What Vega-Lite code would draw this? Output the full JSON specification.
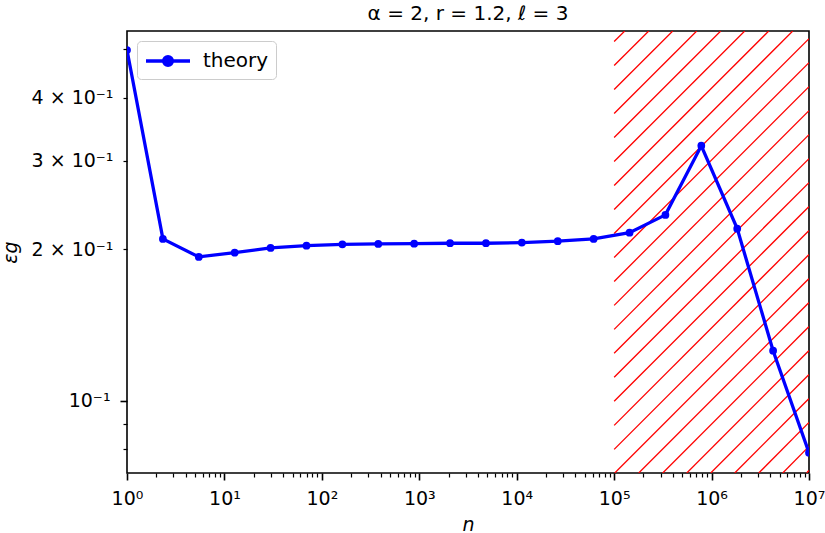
{
  "$schema": "https://vega.github.io/schema/vega-lite/v6.json",
  "width": 682,
  "height": 442,
  "autosize": {"type": "none"},
  "padding": {"left": 127, "top": 31, "right": 16, "bottom": 60},
  "background": "white",
  "title": {
    "text": "α = 2, r = 1.2, ℓ = 3",
    "font": "DejaVu Sans",
    "fontSize": 20,
    "fontWeight": "normal",
    "color": "black",
    "anchor": "middle",
    "offset": 7
  },
  "config": {
    "font": "DejaVu Sans",
    "view": {"stroke": "black", "strokeWidth": 1.6}
  },
  "datasets": {
    "curve": [
      {"n": 1, "eps": 0.498, "series": "theory"},
      {"n": 2.336, "eps": 0.2097, "series": "theory"},
      {"n": 5.456, "eps": 0.1931, "series": "theory"},
      {"n": 12.743, "eps": 0.1969, "series": "theory"},
      {"n": 29.764, "eps": 0.2012, "series": "theory"},
      {"n": 69.519, "eps": 0.2033, "series": "theory"},
      {"n": 162.38, "eps": 0.2046, "series": "theory"},
      {"n": 379.27, "eps": 0.2049, "series": "theory"},
      {"n": 885.87, "eps": 0.2052, "series": "theory"},
      {"n": 2069.1, "eps": 0.2056, "series": "theory"},
      {"n": 4832.9, "eps": 0.2056, "series": "theory"},
      {"n": 11288, "eps": 0.2062, "series": "theory"},
      {"n": 26367, "eps": 0.2075, "series": "theory"},
      {"n": 61585, "eps": 0.2097, "series": "theory"},
      {"n": 143845, "eps": 0.2158, "series": "theory"},
      {"n": 335982, "eps": 0.2341, "series": "theory"},
      {"n": 784760, "eps": 0.3213, "series": "theory"},
      {"n": 1832981, "eps": 0.2198, "series": "theory"},
      {"n": 4281332, "eps": 0.1257, "series": "theory"},
      {"n": 10000000, "eps": 0.0788, "series": "theory"}
    ],
    "hatch": [
      {"n": 100000, "eps": 0.5176, "n_end": 128500, "eps_end": 0.5433},
      {"n": 100000, "eps": 0.4638, "n_end": 226500, "eps_end": 0.5433},
      {"n": 100000, "eps": 0.4155, "n_end": 399500, "eps_end": 0.5433},
      {"n": 100000, "eps": 0.3723, "n_end": 704300, "eps_end": 0.5433},
      {"n": 100000, "eps": 0.3336, "n_end": 1242000, "eps_end": 0.5433},
      {"n": 100000, "eps": 0.2989, "n_end": 2190000, "eps_end": 0.5433},
      {"n": 100000, "eps": 0.2678, "n_end": 3862000, "eps_end": 0.5433},
      {"n": 100000, "eps": 0.24, "n_end": 6810000, "eps_end": 0.5433},
      {"n": 100000, "eps": 0.215, "n_end": 10000000, "eps_end": 0.5245},
      {"n": 100000, "eps": 0.1926, "n_end": 10000000, "eps_end": 0.47},
      {"n": 100000, "eps": 0.1726, "n_end": 10000000, "eps_end": 0.4211},
      {"n": 100000, "eps": 0.1547, "n_end": 10000000, "eps_end": 0.3773},
      {"n": 100000, "eps": 0.1386, "n_end": 10000000, "eps_end": 0.3381},
      {"n": 100000, "eps": 0.1242, "n_end": 10000000, "eps_end": 0.3029},
      {"n": 100000, "eps": 0.1113, "n_end": 10000000, "eps_end": 0.2714},
      {"n": 100000, "eps": 0.0997, "n_end": 10000000, "eps_end": 0.2432},
      {"n": 100000, "eps": 0.0893, "n_end": 10000000, "eps_end": 0.2179},
      {"n": 100000, "eps": 0.08, "n_end": 10000000, "eps_end": 0.1952},
      {"n": 101430, "eps": 0.0718, "n_end": 10000000, "eps_end": 0.1749},
      {"n": 178800, "eps": 0.0718, "n_end": 10000000, "eps_end": 0.1567},
      {"n": 315300, "eps": 0.0718, "n_end": 10000000, "eps_end": 0.1404},
      {"n": 556300, "eps": 0.0718, "n_end": 10000000, "eps_end": 0.1258},
      {"n": 980600, "eps": 0.0718, "n_end": 10000000, "eps_end": 0.1127},
      {"n": 1729000, "eps": 0.0718, "n_end": 10000000, "eps_end": 0.101},
      {"n": 3050000, "eps": 0.0718, "n_end": 10000000, "eps_end": 0.0905},
      {"n": 5377000, "eps": 0.0718, "n_end": 10000000, "eps_end": 0.0811},
      {"n": 9480000, "eps": 0.0718, "n_end": 10000000, "eps_end": 0.0727}
    ]
  },
  "layer": [
    {
      "data": {"name": "hatch"},
      "mark": {"type": "rule", "color": "#ff0000", "strokeWidth": 1.3, "clip": true},
      "encoding": {
        "x": {"field": "n", "type": "quantitative", "scale": {"type": "log", "domain": [1, 10000000], "nice": false}},
        "y": {"field": "eps", "type": "quantitative", "scale": {"type": "log", "domain": [0.0718, 0.5433], "nice": false}},
        "x2": {"field": "n_end"},
        "y2": {"field": "eps_end"}
      }
    },
    {
      "data": {"name": "curve"},
      "mark": {
        "type": "line",
        "strokeWidth": 3.3,
        "clip": true,
        "point": {"filled": true, "size": 60, "clip": true}
      },
      "encoding": {
        "x": {
          "field": "n",
          "type": "quantitative",
          "scale": {"type": "log", "domain": [1, 10000000], "nice": false},
          "axis": {
            "title": "n",
            "titleFont": "DejaVu Sans",
            "titleFontSize": 19,
            "titleFontStyle": "italic",
            "titleFontWeight": "normal",
            "titleColor": "black",
            "titlePadding": 7,
            "grid": false,
            "domain": false,
            "values": [1, 2, 3, 4, 5, 6, 7, 8, 9, 10, 20, 30, 40, 50, 60, 70, 80, 90, 100, 200, 300, 400, 500, 600, 700, 800, 900, 1000, 2000, 3000, 4000, 5000, 6000, 7000, 8000, 9000, 10000, 20000, 30000, 40000, 50000, 60000, 70000, 80000, 90000, 100000, 200000, 300000, 400000, 500000, 600000, 700000, 800000, 900000, 1000000, 2000000, 3000000, 4000000, 5000000, 6000000, 7000000, 8000000, 9000000, 10000000],
            "labelExpr": "abs(log(datum.value)/LN10 - round(log(datum.value)/LN10)) < 0.001 ? '10' + ['⁰','¹','²','³','⁴','⁵','⁶','⁷'][round(log(datum.value)/LN10)] : ''",
            "labelFont": "DejaVu Sans",
            "labelFontSize": 19,
            "labelColor": "black",
            "labelPadding": 9,
            "labelOverlap": false,
            "labelFlush": false,
            "labelBound": false,
            "tickColor": "black",
            "tickSize": {"condition": {"test": "abs(log(datum.value)/LN10 - round(log(datum.value)/LN10)) < 0.001", "value": 7}, "value": 4},
            "tickWidth": {"condition": {"test": "abs(log(datum.value)/LN10 - round(log(datum.value)/LN10)) < 0.001", "value": 1.6}, "value": 1.2}
          }
        },
        "y": {
          "field": "eps",
          "type": "quantitative",
          "scale": {"type": "log", "domain": [0.0718, 0.5433], "nice": false},
          "axis": {
            "title": "εg",
            "titleFont": "DejaVu Sans",
            "titleFontSize": 19,
            "titleFontStyle": "italic",
            "titleFontWeight": "normal",
            "titleColor": "black",
            "titlePadding": 11,
            "grid": false,
            "domain": false,
            "values": [0.08, 0.09, 0.1, 0.2, 0.3, 0.4, 0.5],
            "labelExpr": "datum.value == 0.1 ? '10⁻¹' : (datum.value > 0.15 && datum.value < 0.45 ? format(datum.value * 10, '.0f') + ' × 10⁻¹' : '')",
            "labelFont": "DejaVu Sans",
            "labelFontSize": 19,
            "labelColor": "black",
            "labelPadding": 10,
            "labelOverlap": false,
            "labelFlush": false,
            "labelBound": false,
            "tickColor": "black",
            "tickSize": {"condition": {"test": "datum.value == 0.1", "value": 7}, "value": 4},
            "tickWidth": {"condition": {"test": "datum.value == 0.1", "value": 1.6}, "value": 1.2}
          }
        },
        "color": {
          "field": "series",
          "type": "nominal",
          "scale": {"range": ["#0000ff"]},
          "legend": {
            "title": null,
            "orient": "top-left",
            "offset": 10,
            "padding": 7,
            "fillColor": "rgba(255,255,255,0.8)",
            "strokeColor": "#cccccc",
            "cornerRadius": 4,
            "symbolType": "M-2,0H2M-0.4,0A0.4,0.4,0,1,0,0.4,0A0.4,0.4,0,1,0,-0.4,0",
            "symbolSize": 484,
            "symbolOffset": 11,
            "symbolStrokeWidth": 3.3,
            "symbolFillColor": "#0000ff",
            "symbolStrokeColor": "#0000ff",
            "labelFont": "DejaVu Sans",
            "labelFontSize": 20,
            "labelColor": "black",
            "labelOffset": 22
          }
        }
      }
    }
  ]
}
